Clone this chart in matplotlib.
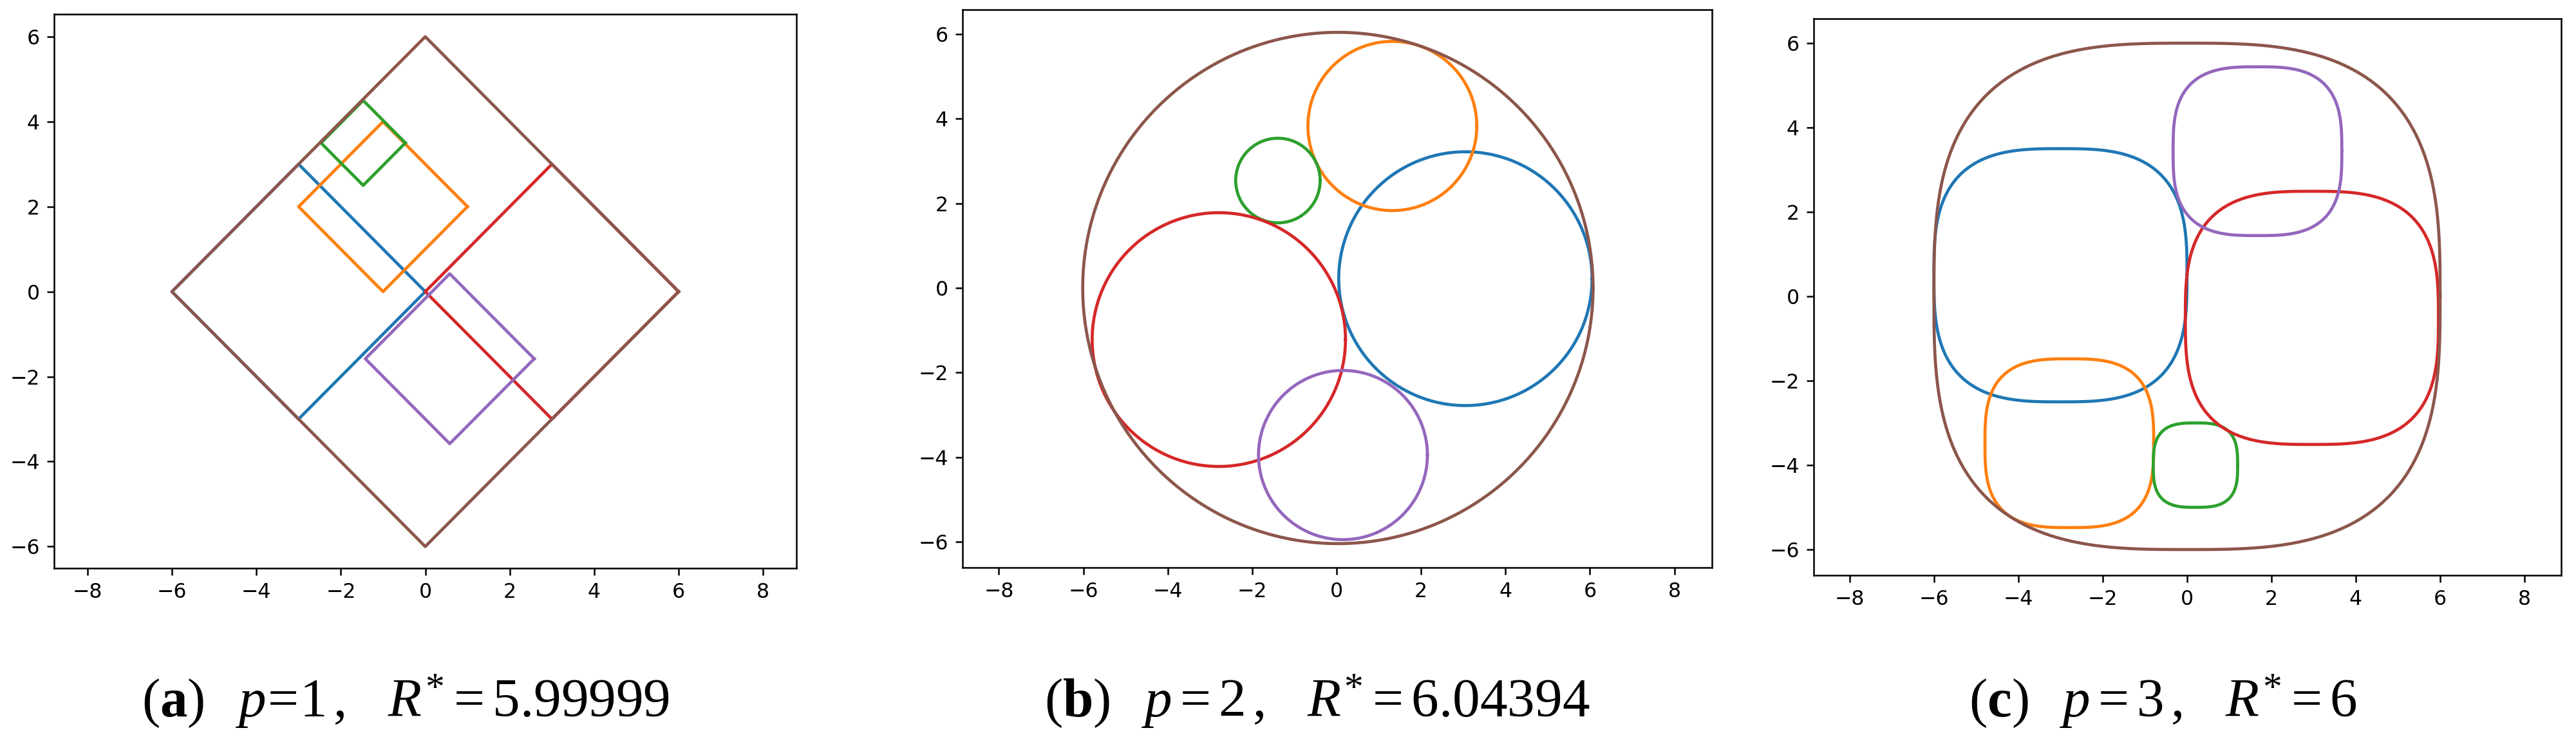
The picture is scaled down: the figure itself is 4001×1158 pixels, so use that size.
import numpy as np
import matplotlib.pyplot as plt

plt.rcParams['mathtext.fontset'] = 'custom'
plt.rcParams['mathtext.rm'] = 'Liberation Serif'
plt.rcParams['mathtext.it'] = 'Liberation Serif:italic'
plt.rcParams['mathtext.bf'] = 'Liberation Serif:bold'

# panel (a): p = 1
p_a = 1
cx_a = [-3.0, -1.0, -1.47, 3.0, 0.58]
cy_a = [0.0, 2.0, 3.5, 0.0, -1.58]
r_a = [3, 2, 1, 3, 2]
outer_a = (0.0, 0.0, 6.0)

# panel (b): p = 2
p_b = 2
cx_b = [3.05, 1.32, -1.39, -2.79, 0.15]
cy_b = [0.22, 3.83, 2.54, -1.22, -3.95]
r_b = [3, 2, 1, 3, 2]
outer_b = (0.03, 0.0, 6.04394)

# panel (c): p = 3
p_c = 3
cx_c = [-3.0, -2.79, 0.2, 2.96, 1.67]
cy_c = [0.5, -3.48, -4.0, -0.51, 3.44]
r_c = [3, 2, 1, 3, 2]
outer_c = (0.0, 0.0, 6.0)

labels = [r'$(\mathbf{a})\;\;\; p\!=\!1\,,\;\;\; R^{*}=5.99999$',
          r'$(\mathbf{b})\;\;\; p=2\,,\;\;\; R^{*}=6.04394$',
          r'$(\mathbf{c})\;\;\; p=3\,,\;\;\; R^{*}=6$']


def pball(cx, cy, r, p, n=2000):
    """points on the boundary of the p-norm ball"""
    t = np.linspace(0, 2 * np.pi, n)
    c, s = np.cos(t), np.sin(t)
    x = cx + r * np.sign(c) * np.abs(c) ** (2.0 / p)
    y = cy + r * np.sign(s) * np.abs(s) ** (2.0 / p)
    return x, y


W, H = 4001, 1158
dpi = 227
fig = plt.figure(figsize=(W / dpi, H / dpi), dpi=dpi)

# axes boxes in pixels: left, right, top, bottom
boxes = [(84, 1237, 22, 882), (1495, 2659, 15, 881), (2817, 3978, 29, 893)]
xlims = [(-8.79, 8.79), (-8.86, 8.89), (-8.85, 8.87)]
ylims = [(-6.51, 6.53), (-6.61, 6.58), (-6.61, 6.58)]
label_x = [630, 2046, 3359]

panels = [(p_a, cx_a, cy_a, r_a, outer_a),
          (p_b, cx_b, cy_b, r_b, outer_b),
          (p_c, cx_c, cy_c, r_c, outer_c)]

for i, (p, cxs, cys, rs, outer) in enumerate(panels):
    l, r, t, b = boxes[i]
    ax = fig.add_axes([l / W, (H - b) / H, (r - l) / W, (b - t) / H])
    for cx, cy, rad in zip(cxs, cys, rs):
        x, y = pball(cx, cy, rad, p)
        ax.plot(x, y)
    x, y = pball(outer[0], outer[1], outer[2], p)
    ax.plot(x, y)
    ax.set_xlim(*xlims[i])
    ax.set_ylim(*ylims[i])
    ax.set_xticks(np.arange(-8, 9, 2))
    ax.set_yticks(np.arange(-6, 7, 2))
    fig.text(label_x[i] / W, (H - 1112) / H, labels[i], fontsize=27,
             ha='center', va='baseline')

fig.savefig('out.png', dpi=dpi)
